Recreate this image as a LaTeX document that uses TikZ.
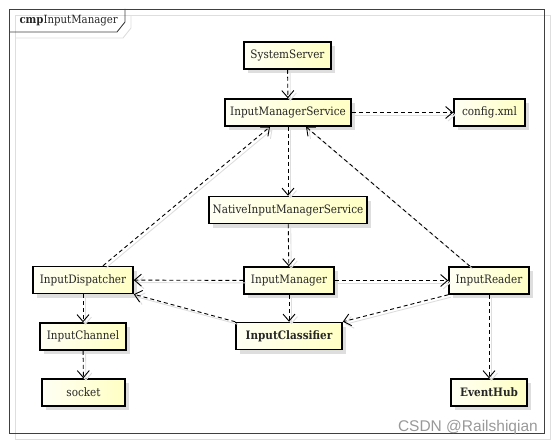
\documentclass[tikz,border=0pt]{standalone}
\usepackage{fontspec}
\setmainfont{DejaVu Serif Condensed}
\newfontfamily\wmfont{Liberation Sans}
\usetikzlibrary{arrows.meta,shadows}
\definecolor{compleft}{HTML}{FFFFF4}
\definecolor{compright}{HTML}{FFFFC4}
\definecolor{shadowgray}{HTML}{DEDEDE}
\tikzset{
  comp/.style={draw=black, line width=1.5pt, inner sep=0pt,
    minimum height=27pt, left color=compleft, right color=compright,
    text=black!85, font=\fontsize{11.6}{13}\selectfont,
    drop shadow={shadow xshift=4pt, shadow yshift=-4pt, fill=shadowgray, opacity=1}},
  dep/.style={draw=black, line width=0.9pt, dash pattern=on 4pt off 3pt,
    -{Straight Barb[length=7pt,width=12pt,line width=0.9pt]},
    preaction={draw=shadowgray, solid, line width=0.9pt,
      transform canvas={shift={(2.5pt,-2.5pt)}}}}
}
\begin{document}
\begin{tikzpicture}[x=1pt,y=-1pt]
\useasboundingbox (0,0) rectangle (554,444);
% frame
\draw[shadowgray, line width=0.9pt] (15,15) rectangle (550,439) ;
\draw[shadowgray, line width=0.9pt] (15,38) -- (123,38) -- (131,28) -- (131,15) ;
\draw[black!75, line width=0.9pt] (9,9) rectangle (544,433) ;
\draw[black!75, line width=0.9pt] (9,32) -- (117,32) -- (125,22) -- (125,9) ;
\node[anchor=west, text=black!85, font=\fontsize{11.3}{13}\selectfont] (title) at (16,21) {\textbf{cmp}InputManager} ;
% components
\node[comp, minimum width=87pt] (sys) at (287.5,55.5) {SystemServer} ;
\node[comp, minimum width=126pt] (ims) at (288,112.5) {InputManagerService} ;
\node[comp, minimum width=71pt] (cfg) at (489.5,112.5) {config.xml} ;
\node[comp, minimum width=158pt] (nims) at (288,210) {NativeInputManagerService} ;
\node[comp, minimum width=90pt] (im) at (289,280.5) {InputManager} ;
\node[comp, minimum width=80pt] (ir) at (489,280.5) {InputReader} ;
\node[comp, minimum width=106pt, font=\fontsize{11.6}{13}\selectfont\bfseries] (icl) at (289,336) {InputClassifier} ;
\node[comp, minimum width=76pt, font=\fontsize{11.6}{13}\selectfont\bfseries] (eh) at (489,392.5) {EventHub} ;
\node[comp, minimum width=100pt] (idp) at (83,280) {InputDispatcher} ;
\node[comp, minimum width=86pt] (ich) at (83,336.5) {InputChannel} ;
\node[comp, minimum width=83pt] (sock) at (83.5,392.5) {socket} ;
% dependencies
\draw[dep] (sys) -- (ims) ;
\draw[dep] (ims) -- (cfg) ;
\draw[dep] (ims) -- (nims) ;
\draw[dep] (nims) -- (im) ;
\draw[dep] (im) -- (idp) ;
\draw[dep] (im) -- (ir) ;
\draw[dep] (im) -- (icl) ;
\draw[dep] (ir.south west) -- (icl.north east) ;
\draw[dep] (icl.north west) -- (idp.south east) ;
\draw[dep] ([xshift=20pt]idp.north) -- ([xshift=-18pt]ims.south) ;
\draw[dep] ([xshift=-19pt]ir.north) -- ([xshift=18pt]ims.south) ;
\draw[dep] (ir) -- (eh) ;
\draw[dep] (idp) -- (ich) ;
\draw[dep] (ich) -- (sock) ;
% watermark
\node[anchor=base east, inner sep=0pt, text=black!40, font=\wmfont\fontsize{15.5}{16}\selectfont] (wm) at (538,431) {CSDN @Railshiqian} ;
\end{tikzpicture}
\end{document}
